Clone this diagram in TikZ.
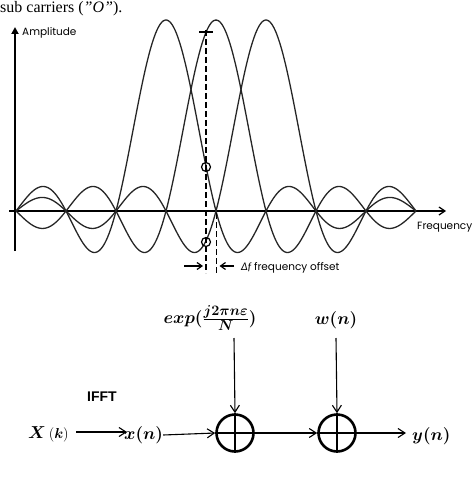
\documentclass[tikz,border=0pt]{standalone}
\usepackage{fontspec}
\usepackage{amsmath}
\usepackage{bm}
\setmainfont{Liberation Serif}
\newfontfamily\labfont{Poppins}
\newfontfamily\deltafont{Lato}
\newfontfamily\ifftfont{Liberation Sans}
\usetikzlibrary{arrows.meta,calc}
\begin{document}
\begin{tikzpicture}[x=1pt,y=-1pt,
  curve/.style={line width=1.3pt,black!85},
  axisline/.style={line width=1.4pt},
  dashline/.style={line width=1.6pt,dash pattern=on 6pt off 3pt},
  sumcirc/.style={circle,draw,line width=2.6pt,minimum size=37pt,inner sep=0pt},
  flow/.style={line width=1.1pt,-{Straight Barb[length=7pt,width=9pt,line width=1.1pt]}},
  mathlab/.style={inner sep=1pt,font=\fontsize{19}{21}\selectfont},
  smalllab/.style={inner sep=0pt,font=\labfont\fontsize{10.5}{12}\selectfont}]
\useasboundingbox (0,0) rectangle (474,481);
\node[anchor=base west,inner sep=0pt,font=\fontsize{16}{18}\selectfont] (cap) at (0,13) {sub carriers (\textit{"O"}).};
% axes
\coordinate (ybot) at (15,251);
\coordinate (ytop) at (15,27);
\coordinate (xl) at (9,211);
\coordinate (xr) at (446,211);
\draw[line width=2.6pt,-{Triangle[length=7pt,width=7pt]}] (ybot) -- (ytop);
\draw[axisline,-{Straight Barb[length=6pt,width=8pt,line width=1.2pt]}] (xl) -- (xr);
\node[smalllab,anchor=west] (amp) at (22,33) {Amplitude};
\node[smalllab,anchor=west] (freq) at (417,227) {Frequency};
% sinc curves
\foreach \c/\a/\b in {166/-3/5, 216/-4/4, 266/-5/3}{
  \draw[curve] plot[domain=\a:\b,samples=300,smooth] ({\c+50*\x},{211-191*sin(180*\x)/(pi*\x)});
}
% dashed offset lines
\coordinate (d1t) at (206,30);
\coordinate (d1b) at (206,273);
\coordinate (d2t) at (216.5,213);
\coordinate (d2b) at (216.5,273);
\draw[dashline] (d1t) -- (d1b);
\draw[dashline] (d2t) -- (d2b);
% marks
\coordinate (plus) at (206,32);
\draw[line width=1.2pt] ($(plus)+(-7,0)$) -- ($(plus)+(7,0)$);
\node[circle,draw,line width=1.2pt,minimum size=9pt,inner sep=0pt] (o1) at (206,167) {};
\node[circle,draw,line width=1.2pt,minimum size=9pt,inner sep=0pt] (o2) at (206,242) {};
% offset arrows
\coordinate (la) at (184,266);
\coordinate (lb) at (203,266);
\coordinate (ra) at (234,266);
\coordinate (rb) at (219.5,266);
\draw[line width=1.2pt,-{Straight Barb[length=5pt,width=7pt,line width=1.2pt]}] (la) -- (lb);
\draw[line width=1.2pt,-{Straight Barb[length=5pt,width=7pt,line width=1.2pt]}] (ra) -- (rb);
\node[smalllab,anchor=west] (off) at (241,267.5) {{\deltafont\itshape Δf} frequency offset};
% block diagram
\node[mathlab,anchor=west,inner sep=0pt] (Xk) at (28,434) {$\bm{X}\,{\scriptstyle(\bm{k})}$};
\node[mathlab,anchor=west,inner sep=0pt] (xn) at (124,435) {$\bm{x(n)}$};
\node[inner sep=0pt,font=\ifftfont\bfseries\fontsize{14}{16}\selectfont] (ifft) at (102,397) {IFFT};
\node[sumcirc] (s1) at (235,433) {};
\node[sumcirc] (s2) at (337,433) {};
\draw[line width=2.6pt] (s1.north) -- (s1.south) (s1.west) -- (s1.east);
\draw[line width=2.6pt] (s2.north) -- (s2.south) (s2.west) -- (s2.east);
\node[mathlab] (exp) at (210,318) {$\bm{exp(}\frac{\bm{j2\pi n\varepsilon}}{\bm{N}}\bm{)}$};
\node[mathlab] (wn) at (336,320) {$\bm{w(n)}$};
\node[mathlab,anchor=west,inner sep=0pt] (yn) at (412,436) {$\bm{y(n)}$};
\coordinate (e1) at (234,338);
\coordinate (w1) at (336,338);
\coordinate (xa) at (76,432);
\coordinate (ya) at (406,433);
\draw[flow] (xa) -- (127,432);
\draw[flow] (xn.east) -- (s1.west);
\draw[flow] (s1.east) -- (s2.west);
\draw[flow] (s2.east) -- (ya);
\draw[flow] (e1) -- (s1.north);
\draw[flow] (w1) -- (s2.north);
\end{tikzpicture}
\end{document}
